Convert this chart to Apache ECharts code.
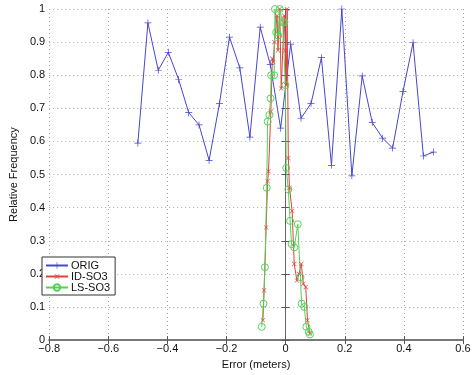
<!DOCTYPE html>
<html><head><meta charset="utf-8">
<script src="https://cdn.jsdelivr.net/npm/echarts@6/dist/echarts.min.js"></script>
<style>html,body{margin:0;padding:0;background:#fff}#c{width:474px;height:375px}</style>
</head><body><div id="c"></div>
<script>
var origX = [-0.5,-0.466,-0.431,-0.397,-0.362,-0.328,-0.293,-0.259,-0.224,-0.190,-0.155,-0.121,-0.086,-0.052,-0.017,0.017,0.052,0.086,0.121,0.155,0.190,0.224,0.259,0.293,0.328,0.362,0.397,0.431,0.466,0.5];
var origY = [0.595,0.958,0.815,0.869,0.787,0.687,0.650,0.543,0.714,0.915,0.822,0.613,0.945,0.832,0.640,0.894,0.670,0.715,0.853,0.528,1.0,0.496,0.798,0.657,0.610,0.580,0.751,0.898,0.556,0.568];
var idX = [-0.077,-0.073,-0.066,-0.061,-0.058,-0.050,-0.045,-0.042,-0.038,-0.029,-0.026,-0.020,-0.015,-0.005,-0.001,0.002,0.005,0.009,0.013,0.022,0.029,0.038,0.045,0.053,0.060,0.068,0.074,0.082];
var idY = [0.06,0.15,0.34,0.48,0.51,0.69,0.85,0.84,0.90,0.98,0.875,1.0,0.76,0.98,0.875,0.77,1.0,0.55,0.46,0.39,0.23,0.18,0.20,0.23,0.17,0.16,0.06,0.02];
var lsX = [-0.081,-0.075,-0.070,-0.064,-0.061,-0.055,-0.051,-0.049,-0.039,-0.036,-0.032,-0.025,-0.020,-0.010,-0.004,-0.001,0.002,0.009,0.015,0.020,0.029,0.041,0.050,0.054,0.063,0.070,0.078,0.082];
var lsY = [0.04,0.11,0.22,0.46,0.66,0.68,0.73,0.80,0.80,1.0,0.93,0.92,1.0,0.96,0.96,0.77,0.52,0.455,0.36,0.29,0.28,0.35,0.19,0.11,0.10,0.04,0.025,0.017];
var xTicks = {min:-0.8, max:0.6, interval:0.2};
var yTicks = {min:0, max:1, interval:0.1};
var names = ['ORIG','ID-SO3','LS-SO3'];

function zip(a,b){return a.map(function(v,i){return [v,b[i]];});}
var plus = 'path://M4.5,0h1v4.5h4.5v1h-4.5v4.5h-1v-4.5h-4.5v-1h4.5z';
var fmt = function(v){ var s = (Math.round(v*10)/10).toString(); return s.replace('-','\u2212'); };
var lab = {fontFamily:'Liberation Sans, Arial, sans-serif', fontSize:11, color:'#111'};
var axLine = {show:true, lineStyle:{color:'#555', width:1}};
var tick = {show:true, inside:true, length:4, lineStyle:{color:'#555'}};
var split = {show:true, lineStyle:{type:[1,3], color:'#aaa', width:1}};

var chart = echarts.init(document.getElementById('c'), null, {renderer:'canvas'});
chart.setOption({
  animation:false,
  grid:{left:34, right:11, top:9, bottom:28},
  legend:{
    data:names, orient:'vertical', left:42, top:257,
    backgroundColor:'#fff', borderColor:'#333', borderWidth:1,
    padding:[3,5,2,3], itemGap:0, itemWidth:22, itemHeight:8,
    textStyle:{fontFamily:'Liberation Sans, Arial, sans-serif', fontSize:11, lineHeight:10, color:'#111', padding:[0,0,0,-2]}
  },
  xAxis:[
    {type:'value', min:xTicks.min, max:xTicks.max, interval:xTicks.interval,
     name:'Error (meters)', nameLocation:'middle', nameGap:14,
     nameTextStyle:{fontFamily:'Liberation Sans, Arial, sans-serif', fontSize:11, color:'#111'},
     axisLine:axLine, axisTick:tick, splitLine:split,
     axisLabel:Object.assign({formatter:fmt, margin:3}, lab)},
    {type:'value', position:'top', min:xTicks.min, max:xTicks.max, interval:xTicks.interval,
     axisLine:{show:true, lineStyle:{color:'#777', width:2}}, axisTick:tick, axisLabel:{show:false}, splitLine:{show:false}}
  ],
  yAxis:[
    {type:'value', min:yTicks.min, max:yTicks.max, interval:yTicks.interval,
     name:'Relative Frequency', nameLocation:'middle', nameGap:22,
     nameTextStyle:{fontFamily:'Liberation Sans, Arial, sans-serif', fontSize:11, color:'#111'},
     axisLine:axLine, axisTick:tick, splitLine:split,
     axisLabel:Object.assign({formatter:fmt, margin:4}, lab)},
    {type:'value', position:'right', min:yTicks.min, max:yTicks.max, interval:yTicks.interval,
     axisLine:{show:true, lineStyle:{color:'#666', width:1}}, axisTick:tick, axisLabel:{show:false}, splitLine:{show:false}}
  ],
  series:[
    {name:names[0], type:'line', data:zip(origX,origY), symbol:plus, symbolSize:7,
     lineStyle:{color:'#4646d2', width:1}, itemStyle:{color:'#4646d2'}},
    {name:names[1], type:'line', data:zip(idX,idY), symbol:plus, symbolSize:6, symbolRotate:45,
     lineStyle:{color:'#e04040', width:1}, itemStyle:{color:'#e04040'}},
    {name:names[2], type:'line', data:zip(lsX,lsY), symbol:'circle', symbolSize:7,
     lineStyle:{color:'#55d055', width:1}, itemStyle:{color:'rgba(255,255,255,0)', borderColor:'#55d055', borderWidth:1}}
  ]
});
</script></body></html>
